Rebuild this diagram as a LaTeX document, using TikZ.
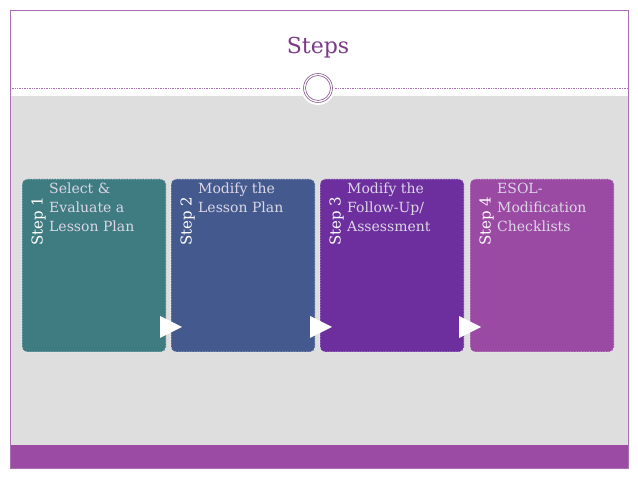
\documentclass[tikz,border=0pt]{standalone}
\usepackage{fontspec}
\setmainfont{DejaVu Serif}
\begin{document}
\begin{tikzpicture}[x=1pt,y=-1pt,
  stepbox/.style={draw=white,densely dotted,line width=0.6pt,rounded corners=5pt},
  steplbl/.style={rotate=90,anchor=south west,text=white,font=\fontsize{15}{17}\selectfont,inner sep=0pt},
  desc/.style={anchor=north west,align=left,text=txt,font=\fontsize{14}{19}\selectfont,inner sep=0pt},
  arr/.style={fill=white,draw=none}]
\definecolor{frame}{HTML}{A86FB3}
\definecolor{band}{HTML}{9C4BA4}
\definecolor{graybg}{HTML}{DEDEDE}
\definecolor{c1}{HTML}{3F7C82}
\definecolor{c2}{HTML}{445A8E}
\definecolor{c3}{HTML}{6C2F9D}
\definecolor{c4}{HTML}{9B4AA3}
\definecolor{txt}{HTML}{DCD6E6}
\definecolor{ttl}{HTML}{7B3A86}
\useasboundingbox (0,0) rectangle (638,478);
\fill[white] (0,0) rectangle (638,478);
\fill[graybg] (10,96) rectangle (628,445);
\fill[band] (10,445) rectangle (628,468);
\draw[frame,line width=0.8pt] (10,10) rectangle (628,468);
\draw[frame,densely dotted,line width=0.7pt] (10,88) -- (628,88);
\fill[white] (318,88) circle (17);
\draw[frame!80!black,line width=0.6pt] (318,88) circle (14.5);
\draw[frame!80!black,line width=0.6pt] (318,88) circle (12.5);
\node[text=ttl,font=\fontsize{22}{24}\selectfont] (title) at (318,48) {Steps};
\foreach \i/\x/\c/\n/\t in {1/22/c1/1/{Select \&\\Evaluate a\\Lesson Plan},
                      2/171/c2/2/{Modify the\\Lesson Plan},
                      3/320/c3/3/{Modify the\\Follow-Up/\\Assessment},
                      4/470/c4/4/{ESOL-\\Modification\\Checklists}}{
  \fill[\c,rounded corners=5pt] (\x,179) rectangle ++(144,173);
  \draw[stepbox] (\x,179) rectangle ++(144,173);
  \node[steplbl] (s\i) at (\x+24,246) {Step \n};
  \node[desc] (d\i) at (\x+27,183) {\t};
}
\foreach \x in {160,310,459}{
  \fill[arr] (\x,316) -- (\x+22,327) -- (\x,338) -- cycle;
}
\end{tikzpicture}
\end{document}
